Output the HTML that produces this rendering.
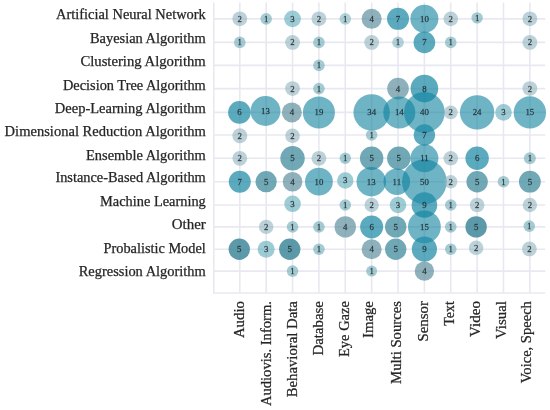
<!DOCTYPE html>
<html lang="en"><head><meta charset="utf-8"><title>Algorithms by data type</title>
<style>html,body{margin:0;padding:0;background:#fff}svg{display:block}text{font-family:"Liberation Serif","DejaVu Serif",serif}</style></head><body>
<svg width="550" height="410" viewBox="0 0 550 410">
<rect width="550" height="410" fill="#fff"/>
<g stroke="#E8E9F0" stroke-width="1.6" fill="none">
<line x1="239.80" y1="2.6" x2="239.80" y2="293.0"/>
<line x1="266.17" y1="2.6" x2="266.17" y2="293.0"/>
<line x1="292.54" y1="2.6" x2="292.54" y2="293.0"/>
<line x1="318.91" y1="2.6" x2="318.91" y2="293.0"/>
<line x1="345.28" y1="2.6" x2="345.28" y2="293.0"/>
<line x1="371.65" y1="2.6" x2="371.65" y2="293.0"/>
<line x1="398.02" y1="2.6" x2="398.02" y2="293.0"/>
<line x1="424.39" y1="2.6" x2="424.39" y2="293.0"/>
<line x1="450.76" y1="2.6" x2="450.76" y2="293.0"/>
<line x1="477.13" y1="2.6" x2="477.13" y2="293.0"/>
<line x1="503.50" y1="2.6" x2="503.50" y2="293.0"/>
<line x1="529.87" y1="2.6" x2="529.87" y2="293.0"/>
<line x1="213.8" y1="18.85" x2="545.3" y2="18.85"/>
<line x1="213.8" y1="42.40" x2="545.3" y2="42.40"/>
<line x1="213.8" y1="65.40" x2="545.3" y2="65.40"/>
<line x1="213.8" y1="88.60" x2="545.3" y2="88.60"/>
<line x1="213.8" y1="112.40" x2="545.3" y2="112.40"/>
<line x1="213.8" y1="135.00" x2="545.3" y2="135.00"/>
<line x1="213.8" y1="158.30" x2="545.3" y2="158.30"/>
<line x1="213.8" y1="181.70" x2="545.3" y2="181.70"/>
<line x1="213.8" y1="205.00" x2="545.3" y2="205.00"/>
<line x1="213.8" y1="226.90" x2="545.3" y2="226.90"/>
<line x1="213.8" y1="249.20" x2="545.3" y2="249.20"/>
<line x1="213.8" y1="271.10" x2="545.3" y2="271.10"/>
<line x1="213.8" y1="2.6" x2="213.8" y2="293.8"/>
<line x1="213.0" y1="293.0" x2="545.3" y2="293.0"/>
</g>
<g>
<circle cx="239.80" cy="18.85" r="7.4" fill="rgb(143,180,190)" fill-opacity="0.6"/>
<circle cx="266.17" cy="18.85" r="5.8" fill="rgb(107,170,182)" fill-opacity="0.6"/>
<circle cx="292.54" cy="18.85" r="8.4" fill="rgb(93,170,185)" fill-opacity="0.6"/>
<circle cx="318.91" cy="18.85" r="7.4" fill="rgb(143,180,190)" fill-opacity="0.6"/>
<circle cx="345.28" cy="18.85" r="5.8" fill="rgb(127,180,192)" fill-opacity="0.6"/>
<circle cx="371.65" cy="18.85" r="10" fill="rgb(94,144,158)" fill-opacity="0.7"/>
<circle cx="398.02" cy="18.85" r="11" fill="rgb(29,137,165)" fill-opacity="0.72"/>
<circle cx="424.39" cy="18.85" r="14" fill="rgb(13,130,158)" fill-opacity="0.6"/>
<circle cx="450.76" cy="18.85" r="7.3" fill="rgb(143,180,190)" fill-opacity="0.6"/>
<circle cx="477.13" cy="17.85" r="5.7" fill="rgb(107,170,182)" fill-opacity="0.6"/>
<circle cx="529.87" cy="18.85" r="7.4" fill="rgb(143,180,190)" fill-opacity="0.6"/>
<circle cx="239.80" cy="42.40" r="5.8" fill="rgb(107,170,182)" fill-opacity="0.6"/>
<circle cx="292.54" cy="42.40" r="7.4" fill="rgb(143,180,190)" fill-opacity="0.6"/>
<circle cx="318.91" cy="42.40" r="5.8" fill="rgb(107,170,182)" fill-opacity="0.6"/>
<circle cx="371.65" cy="42.40" r="7.4" fill="rgb(143,180,190)" fill-opacity="0.6"/>
<circle cx="398.02" cy="42.40" r="5.8" fill="rgb(127,180,192)" fill-opacity="0.6"/>
<circle cx="424.39" cy="42.40" r="10.8" fill="rgb(29,137,165)" fill-opacity="0.72"/>
<circle cx="450.76" cy="42.40" r="5.8" fill="rgb(107,170,182)" fill-opacity="0.6"/>
<circle cx="529.87" cy="42.40" r="7.4" fill="rgb(143,180,190)" fill-opacity="0.6"/>
<circle cx="318.91" cy="65.40" r="5.8" fill="rgb(107,170,182)" fill-opacity="0.6"/>
<circle cx="292.54" cy="88.60" r="7.4" fill="rgb(143,180,190)" fill-opacity="0.6"/>
<circle cx="318.91" cy="88.60" r="5.8" fill="rgb(107,170,182)" fill-opacity="0.6"/>
<circle cx="398.02" cy="88.60" r="10.8" fill="rgb(94,144,158)" fill-opacity="0.7"/>
<circle cx="424.39" cy="88.60" r="13.8" fill="rgb(29,137,165)" fill-opacity="0.72"/>
<circle cx="529.87" cy="88.60" r="7.4" fill="rgb(143,180,190)" fill-opacity="0.6"/>
<circle cx="239.40" cy="112.40" r="11.3" fill="rgb(29,137,165)" fill-opacity="0.72"/>
<circle cx="265.47" cy="111.00" r="15" fill="rgb(13,130,158)" fill-opacity="0.6"/>
<circle cx="291.84" cy="112.40" r="10" fill="rgb(94,144,158)" fill-opacity="0.7"/>
<circle cx="318.91" cy="112.40" r="16" fill="rgb(13,130,158)" fill-opacity="0.6"/>
<circle cx="371.65" cy="112.40" r="18.2" fill="rgb(13,130,158)" fill-opacity="0.6"/>
<circle cx="399.32" cy="112.40" r="16" fill="rgb(13,130,158)" fill-opacity="0.6"/>
<circle cx="424.39" cy="112.40" r="20.4" fill="rgb(13,130,158)" fill-opacity="0.6"/>
<circle cx="450.76" cy="112.40" r="6.9" fill="rgb(143,180,190)" fill-opacity="0.6"/>
<circle cx="477.13" cy="112.40" r="17.2" fill="rgb(13,130,158)" fill-opacity="0.6"/>
<circle cx="503.50" cy="112.40" r="8.3" fill="rgb(93,170,185)" fill-opacity="0.6"/>
<circle cx="529.87" cy="112.40" r="16.2" fill="rgb(13,130,158)" fill-opacity="0.6"/>
<circle cx="239.80" cy="135.80" r="7.5" fill="rgb(143,180,190)" fill-opacity="0.6"/>
<circle cx="292.54" cy="135.80" r="7.3" fill="rgb(143,180,190)" fill-opacity="0.6"/>
<circle cx="371.65" cy="135.00" r="5.8" fill="rgb(107,170,182)" fill-opacity="0.6"/>
<circle cx="424.39" cy="135.00" r="10.7" fill="rgb(29,137,165)" fill-opacity="0.72"/>
<circle cx="239.80" cy="158.30" r="7.4" fill="rgb(143,180,190)" fill-opacity="0.6"/>
<circle cx="292.54" cy="158.30" r="12.2" fill="rgb(76,146,162)" fill-opacity="0.8"/>
<circle cx="318.91" cy="158.30" r="7.4" fill="rgb(143,180,190)" fill-opacity="0.6"/>
<circle cx="345.28" cy="158.30" r="5.7" fill="rgb(107,170,182)" fill-opacity="0.6"/>
<circle cx="371.65" cy="158.30" r="11.7" fill="rgb(76,146,162)" fill-opacity="0.8"/>
<circle cx="398.82" cy="158.30" r="11.7" fill="rgb(76,146,162)" fill-opacity="0.8"/>
<circle cx="424.39" cy="158.30" r="14" fill="rgb(13,130,158)" fill-opacity="0.6"/>
<circle cx="450.76" cy="158.30" r="7.3" fill="rgb(143,180,190)" fill-opacity="0.6"/>
<circle cx="477.13" cy="158.30" r="11.7" fill="rgb(29,137,165)" fill-opacity="0.72"/>
<circle cx="529.87" cy="158.30" r="6" fill="rgb(107,170,182)" fill-opacity="0.6"/>
<circle cx="239.80" cy="181.70" r="11" fill="rgb(29,137,165)" fill-opacity="0.72"/>
<circle cx="266.17" cy="181.70" r="10.6" fill="rgb(76,146,162)" fill-opacity="0.8"/>
<circle cx="292.54" cy="181.70" r="9.8" fill="rgb(94,144,158)" fill-opacity="0.7"/>
<circle cx="318.91" cy="181.70" r="13.9" fill="rgb(13,130,158)" fill-opacity="0.6"/>
<circle cx="345.28" cy="180.50" r="8.2" fill="rgb(93,170,185)" fill-opacity="0.6"/>
<circle cx="371.25" cy="181.70" r="14.7" fill="rgb(13,130,158)" fill-opacity="0.6"/>
<circle cx="396.82" cy="181.70" r="13.3" fill="rgb(13,130,158)" fill-opacity="0.6"/>
<circle cx="424.39" cy="181.70" r="22.4" fill="rgb(13,130,158)" fill-opacity="0.6"/>
<circle cx="450.76" cy="181.70" r="6.7" fill="rgb(143,180,190)" fill-opacity="0.6"/>
<circle cx="477.13" cy="181.70" r="10.7" fill="rgb(76,146,162)" fill-opacity="0.8"/>
<circle cx="503.50" cy="181.70" r="5.8" fill="rgb(107,170,182)" fill-opacity="0.6"/>
<circle cx="529.87" cy="181.70" r="10.9" fill="rgb(76,146,162)" fill-opacity="0.8"/>
<circle cx="292.54" cy="203.80" r="8.3" fill="rgb(93,170,185)" fill-opacity="0.6"/>
<circle cx="345.28" cy="205.00" r="5.8" fill="rgb(107,170,182)" fill-opacity="0.6"/>
<circle cx="371.65" cy="205.00" r="7.2" fill="rgb(143,180,190)" fill-opacity="0.6"/>
<circle cx="398.02" cy="205.00" r="8.3" fill="rgb(93,170,185)" fill-opacity="0.6"/>
<circle cx="424.39" cy="205.00" r="12.8" fill="rgb(29,137,165)" fill-opacity="0.72"/>
<circle cx="450.76" cy="205.00" r="5.8" fill="rgb(107,170,182)" fill-opacity="0.6"/>
<circle cx="477.13" cy="205.00" r="7.3" fill="rgb(143,180,190)" fill-opacity="0.6"/>
<circle cx="529.87" cy="205.00" r="7.2" fill="rgb(143,180,190)" fill-opacity="0.6"/>
<circle cx="266.17" cy="226.90" r="7.2" fill="rgb(143,180,190)" fill-opacity="0.6"/>
<circle cx="292.54" cy="226.90" r="5.8" fill="rgb(107,170,182)" fill-opacity="0.6"/>
<circle cx="318.91" cy="226.90" r="5.8" fill="rgb(107,170,182)" fill-opacity="0.6"/>
<circle cx="345.28" cy="226.90" r="10.7" fill="rgb(94,144,158)" fill-opacity="0.7"/>
<circle cx="371.65" cy="226.90" r="11.5" fill="rgb(29,137,165)" fill-opacity="0.72"/>
<circle cx="395.72" cy="226.90" r="10.7" fill="rgb(76,146,162)" fill-opacity="0.8"/>
<circle cx="424.39" cy="226.90" r="16.4" fill="rgb(13,130,158)" fill-opacity="0.6"/>
<circle cx="450.76" cy="226.90" r="5.8" fill="rgb(107,170,182)" fill-opacity="0.6"/>
<circle cx="476.13" cy="226.90" r="10.7" fill="rgb(64,136,154)" fill-opacity="0.85"/>
<circle cx="529.27" cy="226.10" r="5.8" fill="rgb(107,170,182)" fill-opacity="0.6"/>
<circle cx="239.30" cy="249.20" r="10.7" fill="rgb(64,136,154)" fill-opacity="0.85"/>
<circle cx="266.17" cy="249.20" r="8.5" fill="rgb(93,170,185)" fill-opacity="0.6"/>
<circle cx="289.74" cy="249.20" r="10.7" fill="rgb(64,136,154)" fill-opacity="0.85"/>
<circle cx="318.91" cy="249.20" r="5.8" fill="rgb(107,170,182)" fill-opacity="0.6"/>
<circle cx="371.65" cy="249.20" r="10" fill="rgb(94,144,158)" fill-opacity="0.7"/>
<circle cx="395.72" cy="249.20" r="10.7" fill="rgb(76,146,162)" fill-opacity="0.8"/>
<circle cx="424.39" cy="249.20" r="12.6" fill="rgb(29,137,165)" fill-opacity="0.72"/>
<circle cx="450.76" cy="249.20" r="5.8" fill="rgb(107,170,182)" fill-opacity="0.6"/>
<circle cx="476.13" cy="247.80" r="7.3" fill="rgb(143,180,190)" fill-opacity="0.6"/>
<circle cx="529.37" cy="248.90" r="7.4" fill="rgb(143,180,190)" fill-opacity="0.6"/>
<circle cx="292.54" cy="271.10" r="5.8" fill="rgb(107,170,182)" fill-opacity="0.6"/>
<circle cx="371.65" cy="271.10" r="5.5" fill="rgb(107,170,182)" fill-opacity="0.6"/>
<circle cx="424.39" cy="271.10" r="9.7" fill="rgb(94,144,158)" fill-opacity="0.7"/>
</g>
<g font-size="8.8" text-anchor="middle" fill="#1c2428" fill-opacity="0.88" stroke="#1c2428" stroke-opacity="0.6" stroke-width="0.3">
<text x="239.80" y="21.75">2</text>
<text x="266.17" y="21.75">1</text>
<text x="292.54" y="21.75">3</text>
<text x="318.91" y="21.75">2</text>
<text x="345.28" y="21.75">1</text>
<text x="371.65" y="21.75">4</text>
<text x="398.02" y="21.75">7</text>
<text x="424.39" y="21.75">10</text>
<text x="450.76" y="21.75">2</text>
<text x="477.13" y="20.75">1</text>
<text x="529.87" y="21.75">2</text>
<text x="239.80" y="45.30">1</text>
<text x="292.54" y="45.30">2</text>
<text x="318.91" y="45.30">1</text>
<text x="371.65" y="45.30">2</text>
<text x="398.02" y="45.30">1</text>
<text x="424.39" y="45.30">7</text>
<text x="450.76" y="45.30">1</text>
<text x="529.87" y="45.30">2</text>
<text x="318.91" y="68.30">1</text>
<text x="292.54" y="91.50">2</text>
<text x="318.91" y="91.50">1</text>
<text x="398.02" y="91.50">4</text>
<text x="424.39" y="91.50">8</text>
<text x="529.87" y="91.50">2</text>
<text x="239.40" y="115.30">6</text>
<text x="265.47" y="113.90">13</text>
<text x="291.84" y="115.30">4</text>
<text x="318.91" y="115.30">19</text>
<text x="371.65" y="115.30">34</text>
<text x="399.32" y="115.30">14</text>
<text x="424.39" y="115.30">40</text>
<text x="450.76" y="115.30">2</text>
<text x="477.13" y="115.30">24</text>
<text x="503.50" y="115.30">3</text>
<text x="529.87" y="115.30">15</text>
<text x="239.80" y="138.70">2</text>
<text x="292.54" y="138.70">2</text>
<text x="371.65" y="137.90">1</text>
<text x="424.39" y="137.90">7</text>
<text x="239.80" y="161.20">2</text>
<text x="292.54" y="161.20">5</text>
<text x="318.91" y="161.20">2</text>
<text x="345.28" y="161.20">1</text>
<text x="371.65" y="161.20">5</text>
<text x="398.82" y="161.20">5</text>
<text x="424.39" y="161.20">11</text>
<text x="450.76" y="161.20">2</text>
<text x="477.13" y="161.20">6</text>
<text x="529.87" y="161.20">1</text>
<text x="239.80" y="184.60">7</text>
<text x="266.17" y="184.60">5</text>
<text x="292.54" y="184.60">4</text>
<text x="318.91" y="184.60">10</text>
<text x="345.28" y="183.40">3</text>
<text x="371.25" y="184.60">13</text>
<text x="396.82" y="184.60">11</text>
<text x="424.39" y="184.60">50</text>
<text x="450.76" y="184.60">2</text>
<text x="477.13" y="184.60">5</text>
<text x="503.50" y="184.60">1</text>
<text x="529.87" y="184.60">5</text>
<text x="292.54" y="206.70">3</text>
<text x="345.28" y="207.90">1</text>
<text x="371.65" y="207.90">2</text>
<text x="398.02" y="207.90">3</text>
<text x="424.39" y="207.90">9</text>
<text x="450.76" y="207.90">1</text>
<text x="477.13" y="207.90">2</text>
<text x="529.87" y="207.90">2</text>
<text x="266.17" y="229.80">2</text>
<text x="292.54" y="229.80">1</text>
<text x="318.91" y="229.80">1</text>
<text x="345.28" y="229.80">4</text>
<text x="371.65" y="229.80">6</text>
<text x="395.72" y="229.80">5</text>
<text x="424.39" y="229.80">15</text>
<text x="450.76" y="229.80">1</text>
<text x="476.13" y="229.80">5</text>
<text x="529.27" y="229.00">1</text>
<text x="239.30" y="252.10">5</text>
<text x="266.17" y="252.10">3</text>
<text x="289.74" y="252.10">5</text>
<text x="318.91" y="252.10">1</text>
<text x="371.65" y="252.10">4</text>
<text x="395.72" y="252.10">5</text>
<text x="424.39" y="252.10">9</text>
<text x="450.76" y="252.10">1</text>
<text x="476.13" y="250.70">2</text>
<text x="529.37" y="251.80">2</text>
<text x="292.54" y="274.00">1</text>
<text x="371.65" y="274.00">1</text>
<text x="424.39" y="274.00">4</text>
</g>
<g font-size="14" text-anchor="end" fill="#262626" stroke="#262626" stroke-width="0.25">
<text x="205.8" y="18.90" textLength="149.8" lengthAdjust="spacingAndGlyphs">Artificial Neural Network</text>
<text x="205.8" y="43.10" textLength="115.9" lengthAdjust="spacingAndGlyphs">Bayesian Algorithm</text>
<text x="205.8" y="66.30" textLength="125.4" lengthAdjust="spacingAndGlyphs">Clustering Algorithm</text>
<text x="205.8" y="89.60" textLength="142.8" lengthAdjust="spacingAndGlyphs">Decision Tree Algorithm</text>
<text x="205.8" y="113.10" textLength="151.0" lengthAdjust="spacingAndGlyphs">Deep-Learning Algorithm</text>
<text x="205.8" y="136.30" textLength="201.2" lengthAdjust="spacingAndGlyphs">Dimensional Reduction Algorithm</text>
<text x="205.8" y="159.50" textLength="119.8" lengthAdjust="spacingAndGlyphs">Ensemble Algorithm</text>
<text x="205.8" y="182.20" textLength="150.4" lengthAdjust="spacingAndGlyphs">Instance-Based Algorithm</text>
<text x="205.8" y="205.50" textLength="105.8" lengthAdjust="spacingAndGlyphs">Machine Learning</text>
<text x="205.8" y="229.10" textLength="34.0" lengthAdjust="spacingAndGlyphs">Other</text>
<text x="205.8" y="252.60" textLength="102.3" lengthAdjust="spacingAndGlyphs">Probalistic Model</text>
<text x="205.8" y="275.70" textLength="127.1" lengthAdjust="spacingAndGlyphs">Regression Algorithm</text>
</g>
<g font-size="14" text-anchor="end" fill="#262626" stroke="#262626" stroke-width="0.25">
<text transform="translate(244.10,301.1) rotate(-90)" x="0" y="0" textLength="37.0" lengthAdjust="spacingAndGlyphs">Audio</text>
<text transform="translate(271.37,301.1) rotate(-90)" x="0" y="0" textLength="105.0" lengthAdjust="spacingAndGlyphs">Audiovis. Inform.</text>
<text transform="translate(296.84,301.1) rotate(-90)" x="0" y="0" textLength="96.2" lengthAdjust="spacingAndGlyphs">Behavioral Data</text>
<text transform="translate(322.91,301.1) rotate(-90)" x="0" y="0" textLength="54.5" lengthAdjust="spacingAndGlyphs">Database</text>
<text transform="translate(349.38,301.1) rotate(-90)" x="0" y="0" textLength="55.9" lengthAdjust="spacingAndGlyphs">Eye Gaze</text>
<text transform="translate(373.45,301.1) rotate(-90)" x="0" y="0" textLength="36.9" lengthAdjust="spacingAndGlyphs">Image</text>
<text transform="translate(401.42,301.1) rotate(-90)" x="0" y="0" textLength="82.8" lengthAdjust="spacingAndGlyphs">Multi Sources</text>
<text transform="translate(427.69,301.1) rotate(-90)" x="0" y="0" textLength="40.5" lengthAdjust="spacingAndGlyphs">Sensor</text>
<text transform="translate(453.96,301.1) rotate(-90)" x="0" y="0" textLength="24.7" lengthAdjust="spacingAndGlyphs">Text</text>
<text transform="translate(480.13,301.1) rotate(-90)" x="0" y="0" textLength="35.8" lengthAdjust="spacingAndGlyphs">Video</text>
<text transform="translate(506.20,301.1) rotate(-90)" x="0" y="0" textLength="38.0" lengthAdjust="spacingAndGlyphs">Visual</text>
<text transform="translate(530.77,301.1) rotate(-90)" x="0" y="0" textLength="82.2" lengthAdjust="spacingAndGlyphs">Voice, Speech</text>
</g>
</svg></body></html>
